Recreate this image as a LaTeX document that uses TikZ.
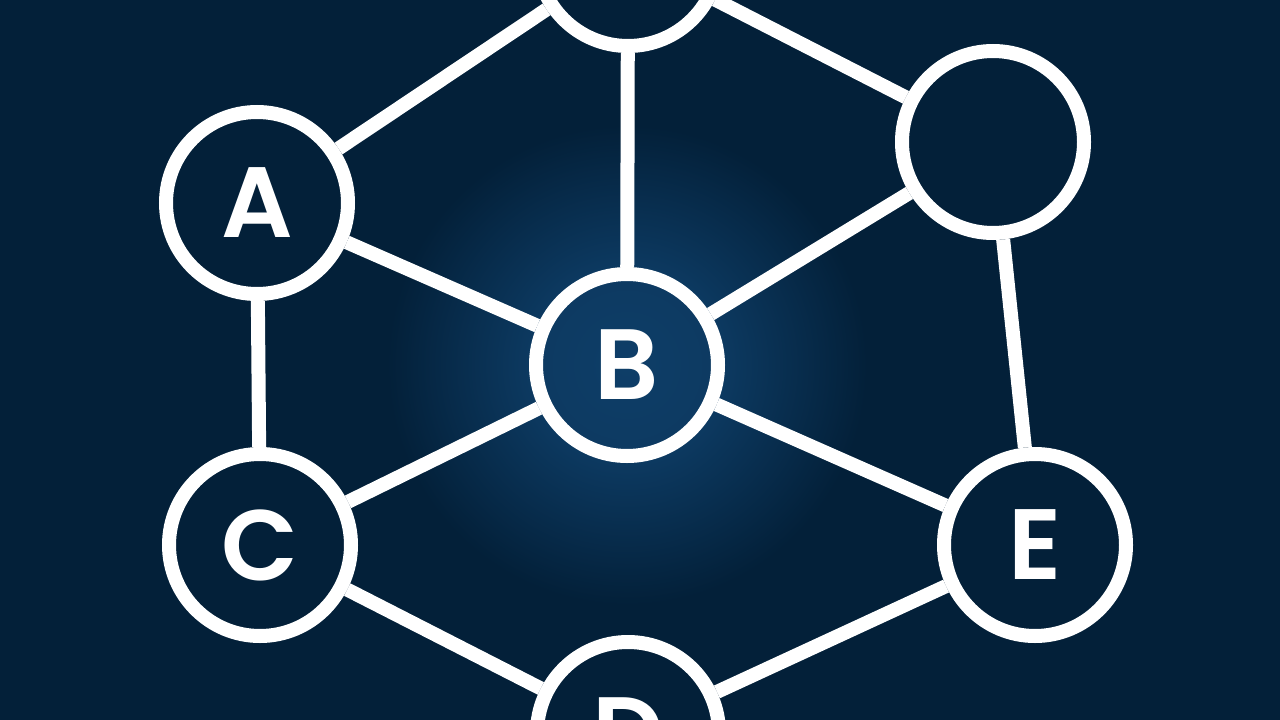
\documentclass[tikz,border=0pt]{standalone}
\usepackage{fontspec}
\setmainfont{Poppins}[BoldFont={Poppins SemiBold}]
\definecolor{bg}{RGB}{3,32,57}
\definecolor{glow}{RGB}{14,62,104}
\pgfdeclareradialshading{glowshade}{\pgfpoint{0bp}{0bp}}{%
  color(0bp)=(glow); color(10bp)=(glow!85!bg); color(18bp)=(glow!40!bg);
  color(25bp)=(bg); color(50bp)=(bg)}

\begin{document}
\begin{tikzpicture}[x=1pt, y=-1pt,
    vertex/.style={circle, draw=white, line width=14pt, minimum size=182pt,
      inner sep=0pt, text=white, font=\fontsize{100}{100}\selectfont\bfseries},
    link/.style={draw=white, line width=14pt}]
    \clip (0,0) rectangle (1280,720);
    \fill[bg] (0,0) rectangle (1280,720);
    \shade[shading=glowshade] (627,365) circle (240pt);

    \node[vertex] (top) at (628,-45) {};
    \node[vertex] (tr) at (993,142) {};
    \node[vertex] (a) at (257,203) {A};
    \node[vertex] (b) at (627,365) {B};
    \node[vertex] (c) at (260,545) {C};
    \node[vertex] (e) at (1035,545) {E};
    \node[vertex] (d) at (628,733) {D};

    \draw[link] (a) -- (top); \draw[link] (top) -- (tr);
    \draw[link] (top) -- (b);
    \draw[link] (a) -- (b); \draw[link] (tr) -- (b);
    \draw[link] (a) -- (c); \draw[link] (tr) -- (e);
    \draw[link] (b) -- (c); \draw[link] (b) -- (e);
    \draw[link] (c) -- (d); \draw[link] (e) -- (d);
  \end{tikzpicture}
\end{document}
